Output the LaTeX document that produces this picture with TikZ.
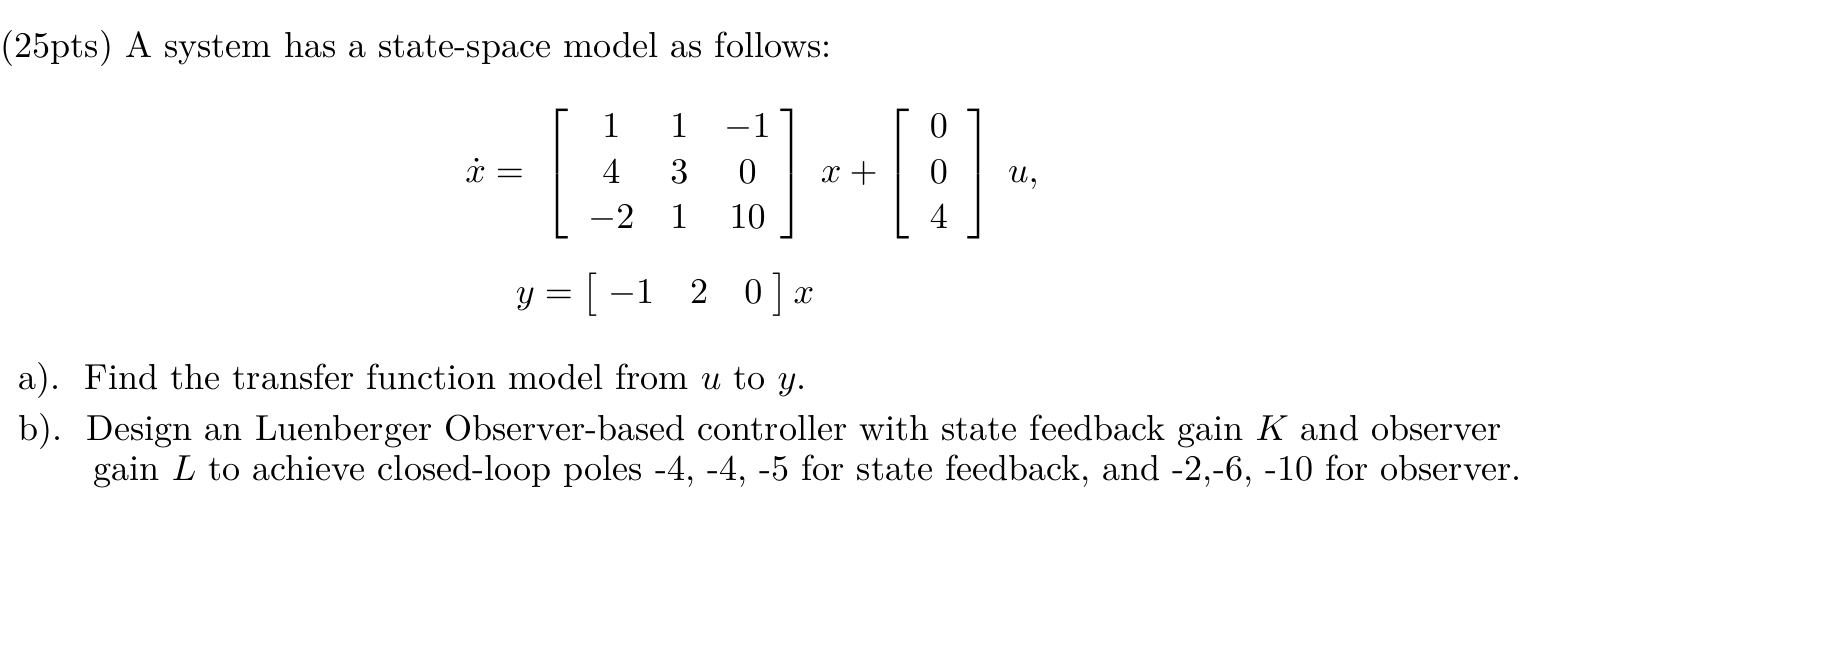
\documentclass[tikz,border=0pt]{standalone}
\usepackage{amsmath}
\begin{document}
\begin{tikzpicture}[x=0.00973cm,y=-0.00973cm,txt/.style={anchor=base west,inner sep=0pt}]
\useasboundingbox (0,0) rectangle (1833,672);
\node[txt] (h) at (0,58) {(25pts) A system has a state-space model as follows:};
\node[anchor=base,inner sep=0pt] (eq1) at (752,183) {\renewcommand{\arraystretch}{1.05}$\dot x=\;\begin{bmatrix}\;\;1&1&-1\;\\ \;\;4&3&0\;\\ \;\;-2&1&10\;\end{bmatrix}\;x+\begin{bmatrix}\;\;0\;\;\\ \;\;0\;\;\\ \;\;4\;\;\end{bmatrix}\;u,$};
\node[anchor=base,inner sep=0pt] (eq2) at (665,304) {$y=\begin{bmatrix}\;-1&2&0\;\end{bmatrix}x$};
\node[txt] (a) at (18,390) {a).\ \ Find the transfer function model from $u$ to $y$.};
\node[txt,text width=1523*0.00973cm,align=justify] (b) at (18,441) {b).\ \ Design an Luenberger Observer-based controller with state feedback gain $K$ and observer};
\node[txt] (b2) at (93,481) {gain $L$ to achieve closed-loop poles -4, -4, -5 for state feedback, and -2,-6, -10 for observer.};
\end{tikzpicture}
\end{document}
